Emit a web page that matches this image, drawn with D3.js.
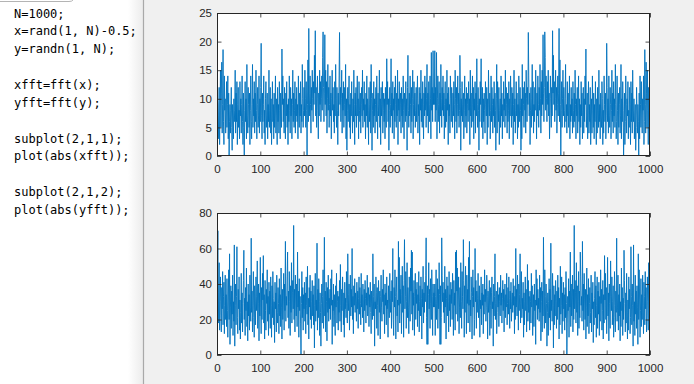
<!DOCTYPE html>
<html>
<head>
<meta charset="utf-8">
<script src="https://cdn.jsdelivr.net/npm/d3@7"></script>
<style>
  body { margin: 0; background: #f0f0f0; }
  svg { display: block; }
</style>
</head>
<body>
<svg id="fig"></svg>
<script>
// editor text on the left
const codeLines = [
  "N=1000;", "x=rand(1, N)-0.5;", "y=randn(1, N);", "",
  "xfft=fft(x);", "yfft=fft(y);", "",
  "subplot(2,1,1);", "plot(abs(xfft));", "",
  "subplot(2,1,2);", "plot(abs(yfft));"
];

const xTicks = [0, 100, 200, 300, 400, 500, 600, 700, 800, 900, 1000];
const topYTicks = [0, 5, 10, 15, 20, 25];
const bottomYTicks = [0, 20, 40, 60, 80];

// abs(xfft), samples 1..1000
const xfftAbs = [
  10, 9, 3, 7, 12, 2, 8, 15, 5, 11, 16.4, 4, 9, 18.6, 6, 2, 14, 8, 10, 4,
  7, 13, 5, 9, 14, 3, 11, 0, 6, 9, 4, 8, 12, 5, 1, 9, 7, 3, 10, 6,
  8, 15, 4, 11, 6, 13, 2, 9, 12, 5, 8, 3, 13, 7, 10, 4, 9, 14, 6, 2,
  11, 5, 0, 8, 13, 6, 10, 3, 16, 7, 4, 12, 9, 5, 11, 2, 8, 14, 6, 3,
  9, 16, 5, 10, 7, 13, 4, 11, 6, 15, 8, 3, 9, 12, 5, 7, 14, 4, 10, 6,
  12, 19.7, 7, 3, 11, 6, 9, 14, 4, 8, 2, 10, 13, 5, 7, 11, 3, 9, 6, 15,
  5, 8, 12, 4, 10, 2, 7, 13, 6, 9, 3, 11, 5, 8, 14, 4, 10, 7, 2, 12,
  6, 9, 4, 13, 8, 3, 11, 7, 5, 18.7, 9, 14, 6, 10, 4, 12, 8, 3, 11, 7,
  13, 5, 9, 2, 10, 6, 14, 8, 4, 12, 7, 10, 3, 9, 15, 6, 11, 5, 8, 13,
  4, 10, 7, 12, 6, 9, 3, 14, 8, 5, 11, 7, 13, 4, 9, 6, 16, 10, 5, 8,
  12, 7, 15, 10, 5, 13, 8, 0, 9, 16.8, 6, 22.3, 11, 7, 14, 9, 4, 12, 8, 15,
  10, 6, 13, 9, 17.6, 11, 21.9, 7, 12, 5, 10, 14, 8, 3, 11, 7, 15, 9, 13, 6,
  10, 14, 8, 17.2, 21.7, 12, 6, 11, 21.2, 9, 15, 7, 13, 4, 10, 16, 8, 12, 5, 9,
  14, 7, 11, 3, 10, 15, 8, 12, 6, 9, 4, 13, 7, 16, 10, 5, 12, 8, 2, 11,
  7, 14, 21.6, 9, 12, 6, 10, 15, 4, 11, 8, 13, 5, 9, 12, 7, 16, 3, 10, 1,
  8, 12, 6, 10, 14, 5, 9, 3, 11, 7, 13, 8, 4, 10, 6, 15, 9, 2, 11, 7,
  12, 5, 9, 14, 7, 10, 3, 13, 8, 6, 11, 4, 9, 12, 7, 15, 5, 10, 8, 13,
  6, 9, 3, 11, 7, 14, 5, 10, 8, 2, 12, 6, 9, 13, 4, 16, 10, 1, 8, 11,
  5, 13, 7, 10, 4, 9, 12, 6, 14, 8, 3, 11, 7, 9, 15, 5, 10, 2, 12, 7,
  9, 13, 4, 8, 11, 6, 10, 3, 12, 7, 5, 17, 9, 13, 6, 10, 1, 8, 12, 5,
  9, 17, 7, 11, 4, 13, 8, 10, 3, 12, 6, 14, 9, 5, 11, 7, 15, 2, 10, 8,
  13, 6, 9, 11, 4, 12, 7, 10, 5, 14, 8, 3, 11, 9, 6, 13, 7, 10, 1, 12,
  17.6, 8, 5, 11, 7, 14, 9, 4, 12, 6, 10, 15, 3, 9, 13, 7, 11, 5, 8, 12,
  6, 10, 14, 4, 9, 7, 12, 2, 11, 8, 15, 6, 10, 5, 13, 9, 3, 11, 7, 14,
  8, 12, 5, 10, 16, 7, 11, 4, 13, 9, 6, 14, 10, 3, 18.1, 8, 12, 6, 18.4, 9,
  11,
  9, 18.4, 6, 12, 8, 18.1, 3, 10, 14, 6, 9, 13, 4, 11, 7, 16, 10, 5, 12, 8,
  14, 7, 11, 3, 9, 13, 5, 10, 6, 15, 8, 11, 2, 12, 7, 9, 4, 14, 10, 6,
  12, 8, 5, 11, 7, 13, 9, 3, 15, 10, 6, 12, 4, 9, 14, 7, 11, 5, 8, 17.6,
  12, 1, 10, 7, 13, 6, 9, 11, 3, 8, 14, 5, 10, 7, 12, 4, 11, 9, 6, 13,
  8, 10, 2, 15, 7, 11, 5, 9, 14, 6, 12, 3, 10, 8, 13, 4, 11, 7, 17, 9,
  5, 12, 8, 1, 10, 6, 13, 9, 17, 5, 7, 12, 3, 10, 6, 11, 8, 4, 13, 9,
  7, 12, 2, 10, 5, 15, 9, 7, 11, 3, 8, 14, 6, 12, 9, 4, 10, 7, 13, 5,
  11, 8, 1, 10, 16, 4, 13, 9, 6, 12, 2, 8, 10, 5, 14, 7, 11, 3, 9, 6,
  13, 8, 10, 5, 15, 7, 12, 9, 4, 11, 6, 8, 13, 3, 10, 7, 14, 9, 5, 12,
  7, 11, 2, 9, 15, 6, 10, 4, 8, 13, 7, 11, 3, 9, 5, 14, 10, 6, 12, 8,
  1, 10, 3, 16, 7, 12, 9, 5, 13, 8, 11, 4, 15, 10, 6, 12, 9, 21.6, 14, 7,
  11, 2, 8, 12, 5, 10, 16, 7, 13, 4, 9, 6, 12, 8, 15, 10, 3, 11, 7, 14,
  9, 5, 12, 8, 16, 10, 4, 13, 7, 15, 9, 21.2, 11, 6, 12, 21.7, 17.2, 8, 14, 10,
  6, 13, 9, 15, 7, 11, 3, 8, 14, 10, 5, 12, 7, 21.9, 11, 17.6, 9, 13, 6, 10,
  15, 8, 12, 4, 9, 14, 7, 11, 22.3, 6, 16.8, 9, 0, 8, 13, 5, 10, 15, 7, 12,
  8, 5, 10, 16, 6, 9, 4, 13, 7, 11, 5, 8, 14, 3, 9, 6, 12, 7, 10, 4,
  13, 8, 5, 11, 6, 15, 9, 3, 10, 7, 12, 4, 8, 14, 6, 10, 2, 9, 5, 13,
  7, 11, 3, 8, 12, 4, 10, 6, 14, 9, 18.7, 5, 7, 11, 3, 8, 13, 4, 9, 6,
  12, 2, 7, 10, 4, 14, 8, 5, 11, 3, 9, 6, 13, 7, 2, 10, 4, 12, 8, 5,
  15, 6, 9, 3, 11, 7, 5, 13, 10, 2, 8, 4, 14, 9, 6, 11, 3, 7, 19.7, 12,
  6, 10, 4, 14, 7, 5, 12, 9, 3, 8, 15, 6, 11, 4, 13, 7, 10, 5, 16, 9,
  3, 6, 14, 8, 2, 11, 5, 9, 12, 4, 7, 16, 3, 10, 6, 13, 8, 0, 5, 11,
  2, 6, 14, 9, 4, 10, 7, 13, 3, 8, 5, 12, 9, 2, 13, 6, 11, 4, 15, 8,
  6, 10, 3, 7, 9, 1, 5, 12, 8, 4, 9, 6, 0, 11, 3, 14, 9, 5, 13, 7,
  4, 10, 8, 14, 2, 6, 18.6, 9, 4, 16.4, 11, 5, 15, 8, 2, 12, 7, 3, 9
];

// abs(yfft), samples 1..1000
const yfftAbs = [
  42, 70, 18, 35, 52, 14, 30, 44, 22, 13, 38, 26, 47, 17, 33, 41, 12, 28, 45, 20,
  34, 16, 43, 25, 10, 31, 48, 20, 57, 6, 27, 39, 15, 36, 23, 45, 11, 30, 19, 62,
  5, 28, 40, 17, 33, 61, 21, 12, 37, 26, 44, 14, 31, 9, 24, 46, 18, 35, 13, 29,
  42, 59, 20, 32, 11, 38, 25, 49, 16, 30, 8, 40, 22, 34, 14, 45, 27, 19, 65.8, 24,
  36, 13, 28, 47, 21, 10, 39, 30, 17, 44, 25, 33, 53, 15, 29, 40, 8, 35, 22, 55,
  27, 12, 38, 20, 46, 31, 56, 18, 34, 9, 42, 25, 14, 37, 29, 48, 19, 33, 11, 41,
  23, 36, 15, 44, 28, 10, 39, 21, 47, 32, 17, 30, 7, 41, 26, 35, 13, 45, 24, 18,
  38, 29, 12, 43, 22, 34, 16, 49, 27, 9, 37, 20, 31, 46, 14, 40, 25, 64, 19, 33,
  28, 44, 58, 21, 36, 15, 47, 30, 11, 39, 24, 52, 18, 35, 42, 26, 73, 20, 37, 13,
  45, 31, 22, 40, 16, 58, 27, 36, 10, 43, 25, 33, 18, 0, 29, 47, 21, 38, 14, 34,
  26, 41, 19, 35, 12, 44, 28, 23, 50, 17, 32, 9, 38, 27, 45, 20, 36, 15, 30, 42,
  22, 34, 17, 39, 4, 28, 46, 19, 31, 25, 63, 14, 37, 21, 43, 30, 11, 35, 24, 5,
  29, 40, 18, 33, 48, 15, 27, 66.3, 22, 36, 13, 41, 30, 8, 38, 24, 45, 19, 32, 26,
  37, 20, 43, 28, 48, 6, 31, 25, 40, 16, 34, 22, 11, 39, 27, 46, 18, 30, 36, 14,
  33, 24, 42, 19, 51, 28, 13, 37, 25, 44, 30, 17, 35, 10, 41, 26, 32, 21, 47, 29,
  18, 57, 34, 25, 40, 14, 31, 45, 22, 37, 27, 60, 20, 33, 12, 39, 28, 43, 24, 35,
  30, 19, 41, 26, 36, 15, 32, 44, 23, 38, 29, 17, 46, 27, 34, 21, 40, 31, 13, 37,
  25, 42, 32, 18, 35, 28, 45, 22, 30, 38, 16, 34, 27, 41, 24, 12, 36, 29, 20, 57,
  33, 22, 40, 5, 30, 26, 44, 35, 15, 38, 28, 11, 42, 31, 24, 36, 9, 33, 45, 27,
  19, 37, 30, 48, 23, 34, 12, 40, 28, 35, 17, 44, 26, 31, 10, 39, 29, 21, 46, 32,
  24, 36, 15, 42, 30, 60, 20, 11, 38, 27, 48, 33, 9, 35, 44, 22, 31, 13, 64, 28,
  55, 18, 37, 29, 45, 12, 34, 50, 24, 39, 10, 42, 65, 26, 33, 47, 15, 30, 52, 21,
  38, 27, 12, 44, 31, 19, 49, 36, 59, 23, 58, 14, 35, 28, 42, 11, 33, 46, 20, 37,
  29, 41, 16, 34, 25, 47, 13, 30, 39, 22, 44, 32, 9, 37, 27, 50, 18, 35, 24, 41,
  30, 45, 66, 21, 6, 39, 6, 34, 52, 26, 37, 15, 43, 29, 20, 48, 33, 11, 40, 27,
  35,
  27, 40, 11, 33, 48, 20, 29, 43, 15, 37, 26, 52, 34, 6, 39, 6, 21, 66, 45, 30,
  41, 24, 35, 18, 50, 27, 37, 9, 32, 44, 22, 39, 30, 13, 47, 25, 34, 16, 41, 29,
  37, 20, 46, 33, 11, 42, 28, 35, 14, 58, 23, 59, 36, 49, 19, 31, 44, 12, 27, 38,
  21, 52, 30, 15, 47, 33, 26, 65, 42, 10, 39, 24, 50, 34, 12, 45, 29, 37, 18, 55,
  28, 64, 13, 31, 22, 44, 35, 9, 33, 48, 27, 38, 11, 20, 60, 30, 42, 15, 36, 24,
  32, 46, 21, 29, 39, 10, 31, 26, 44, 17, 35, 28, 40, 12, 34, 23, 48, 30, 37, 19,
  27, 45, 33, 9, 36, 24, 31, 42, 11, 28, 38, 15, 35, 44, 26, 30, 5, 40, 22, 33,
  57, 20, 29, 36, 12, 24, 41, 27, 34, 16, 38, 30, 22, 45, 28, 35, 18, 32, 42, 25,
  37, 13, 31, 40, 21, 34, 27, 46, 17, 29, 38, 23, 44, 32, 15, 36, 26, 41, 19, 30,
  35, 24, 43, 28, 39, 12, 33, 20, 60, 27, 37, 22, 45, 31, 14, 40, 25, 34, 57, 18,
  29, 47, 21, 32, 26, 41, 10, 35, 17, 30, 44, 25, 37, 13, 28, 51, 19, 42, 24, 33,
  14, 36, 30, 18, 46, 27, 39, 11, 22, 34, 16, 40, 25, 31, 6, 48, 28, 43, 20, 37,
  26, 32, 19, 45, 24, 38, 8, 30, 41, 13, 36, 22, 66.3, 27, 15, 48, 33, 18, 40, 29,
  5, 24, 35, 11, 30, 43, 21, 37, 14, 63, 25, 31, 19, 46, 28, 4, 39, 17, 34, 22,
  42, 30, 15, 36, 20, 45, 27, 38, 9, 32, 17, 50, 23, 28, 44, 12, 35, 19, 41, 26,
  34, 14, 38, 21, 47, 29, 0, 18, 33, 25, 43, 10, 36, 27, 58, 16, 40, 22, 31, 45,
  13, 37, 20, 73, 26, 42, 35, 18, 52, 24, 39, 11, 30, 47, 15, 36, 21, 58, 44, 28,
  33, 19, 64, 25, 40, 14, 46, 31, 20, 37, 9, 27, 49, 16, 34, 22, 43, 12, 29, 38,
  18, 24, 45, 13, 35, 26, 41, 7, 30, 17, 32, 47, 21, 39, 10, 28, 44, 15, 36, 23,
  41, 11, 33, 19, 48, 29, 37, 14, 25, 42, 9, 34, 18, 56, 31, 46, 20, 38, 12, 27,
  55, 22, 35, 8, 40, 29, 15, 53, 33, 25, 44, 17, 30, 39, 10, 21, 47, 28, 13, 36,
  24, 65.8, 19, 27, 45, 14, 34, 22, 40, 8, 30, 16, 49, 25, 38, 11, 32, 20, 59, 42,
  29, 13, 35, 18, 46, 24, 9, 31, 14, 44, 26, 37, 12, 21, 61, 33, 17, 40, 28, 5,
  62, 19, 30, 11, 45, 23, 36, 15, 39, 27, 6, 57, 20, 48, 31, 10, 25, 43, 16, 34,
  20, 45, 28, 12, 41, 33, 17, 47, 26, 38, 13, 22, 44, 30, 14, 52, 35, 18, 70
];

const svg = d3.select('#fig')
  .attr('width', 694)
  .attr('height', 384);

// ---- editor pane ----
const defs = svg.append('defs');
const grad = defs.append('linearGradient').attr('id', 'paneShade');
grad.append('stop').attr('offset', '0%').attr('stop-color', '#ffffff');
grad.append('stop').attr('offset', '100%').attr('stop-color', '#ececec');

svg.append('rect')
  .attr('x', 0).attr('y', 0)
  .attr('width', 143).attr('height', 384)
  .attr('fill', '#ffffff');
svg.append('rect')
  .attr('x', 128).attr('y', 0)
  .attr('width', 15).attr('height', 384)
  .attr('fill', 'url(#paneShade)');
svg.append('line')
  .attr('x1', 143.5).attr('x2', 143.5)
  .attr('y1', 0).attr('y2', 384)
  .attr('stroke', '#a9a9a9')
  .attr('stroke-width', 1.2);
// tab edge at the top
svg.append('path')
  .attr('d', 'M0,1.5 L69,1.5 Q72,1.5 73,0')
  .attr('fill', 'none')
  .attr('stroke', '#b4b4b4');

svg.append('g')
  .selectAll('text')
  .data(codeLines)
  .join('text')
    .attr('x', 14)
    .attr('y', (d, i) => 17.6 + i * 17.85)
    .attr('font-family', '"DejaVu Sans Mono", monospace')
    .attr('font-size', 12)
    .attr('fill', '#000000')
    .style('white-space', 'pre')
    .text(d => d);

// ---- plot panels ----
class fftPlot {
  constructor(_config, _data) {
    this.config = {
      left: _config.left,
      top: _config.top,
      width: _config.width,
      height: _config.height,
      yMax: _config.yMax,
      yTicks: _config.yTicks
    };
    this.data = _data;
    this.initVis();
  }

  initVis() {
    let vis = this;
    const c = vis.config;

    vis.chart = svg.append('g')
      .attr('transform', `translate(${c.left},${c.top})`);

    vis.xScale = d3.scaleLinear()
      .domain([0, 1000])
      .range([0, c.width]);

    vis.yScale = d3.scaleLinear()
      .domain([0, c.yMax])
      .range([c.height, 0]);

    vis.chart.append('rect')
      .attr('width', c.width)
      .attr('height', c.height)
      .attr('fill', '#ffffff');

    vis.chart.append('clipPath')
      .attr('id', 'clip' + c.top)
      .append('rect')
      .attr('width', c.width)
      .attr('height', c.height);

    vis.line = d3.line()
      .x((d, i) => vis.xScale(i + 1))
      .y(d => vis.yScale(d));

    vis.chart.append('path')
      .datum(vis.data)
      .attr('clip-path', `url(#clip${c.top})`)
      .attr('fill', 'none')
      .attr('stroke', '#0072bd')
      .attr('stroke-width', 0.9)
      .attr('stroke-linejoin', 'round')
      .attr('d', vis.line);

    const tick = 4.5;
    const fmt = d3.format('d');

    vis.chart.append('g')
      .attr('transform', `translate(0,${c.height})`)
      .call(d3.axisBottom(vis.xScale).tickValues(xTicks).tickFormat(fmt).tickSize(-tick).tickPadding(9));
    vis.chart.append('g')
      .call(d3.axisTop(vis.xScale).tickValues(xTicks).tickSize(-tick).tickFormat(''));
    vis.chart.append('g')
      .call(d3.axisLeft(vis.yScale).tickValues(c.yTicks).tickFormat(fmt).tickSize(-tick).tickPadding(5));
    vis.chart.append('g')
      .attr('transform', `translate(${c.width},0)`)
      .call(d3.axisRight(vis.yScale).tickValues(c.yTicks).tickSize(-tick).tickFormat(''));

    vis.chart.selectAll('.domain').remove();
    vis.chart.selectAll('.tick line')
      .attr('stroke', '#262626')
      .attr('stroke-width', 0.8);
    vis.chart.selectAll('.tick text')
      .attr('fill', '#262626')
      .attr('font-family', '"Liberation Sans", Arial, sans-serif')
      .attr('font-size', 11.5);

    vis.chart.append('rect')
      .attr('x', 0.5).attr('y', 0.5)
      .attr('width', c.width - 1)
      .attr('height', c.height - 1)
      .attr('fill', 'none')
      .attr('stroke', '#262626')
      .attr('stroke-width', 1);
  }
}

new fftPlot({ left: 217, top: 13, width: 433, height: 143, yMax: 25, yTicks: topYTicks }, xfftAbs);
new fftPlot({ left: 217, top: 213, width: 433, height: 142, yMax: 80, yTicks: bottomYTicks }, yfftAbs);
</script>
</body>
</html>
